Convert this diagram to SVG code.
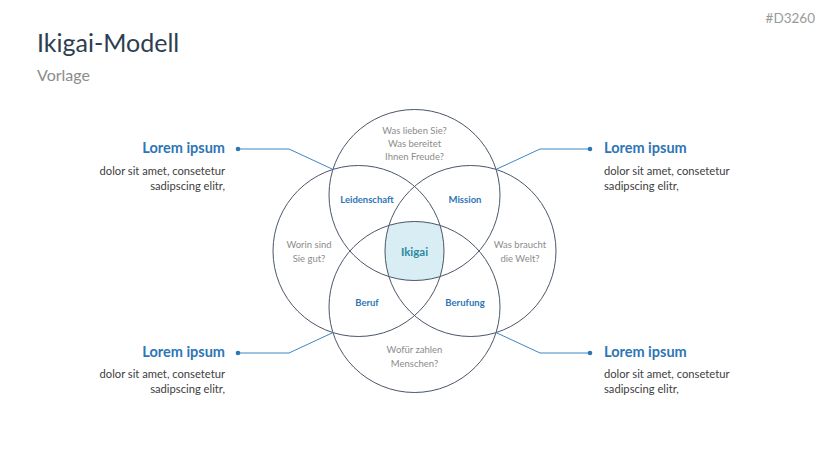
<svg xmlns="http://www.w3.org/2000/svg" width="829" height="466" viewBox="0 0 829 466">
<style>
text{font-family:Lato,"Open Sans","Liberation Sans",sans-serif}
.circ{fill:none;stroke:#4a5668;stroke-width:1}
.q{fill:#8c8c8c;font-size:9.5px;text-anchor:middle}
.lab{fill:#2e75b6;font-size:9.5px;font-weight:bold;text-anchor:middle}
.head{fill:#2e75b6;font-size:14.5px;font-weight:bold}
.body{fill:#404040;font-size:11.2px}
.conn{fill:none;stroke:#3d85c6;stroke-width:1}
.dot{fill:#2e75b6}
</style>
<rect width="829" height="466" fill="#ffffff"/>
<text x="37" y="52" style="font-size:25px;fill:#2d3e50">Ikigai-Modell</text>
<text x="37" y="81" style="font-size:16px;fill:#8c8c8c">Vorlage</text>
<text x="815" y="23" style="font-size:13.5px;fill:#9a9a9a;text-anchor:end">#D3260</text>
<g id="ikigai">
<path d="M388.9,225.4 A85.5,85.5 0 0 1 440.1,225.4 A85.5,85.5 0 0 1 440.1,276.6 A85.5,85.5 0 0 1 388.9,276.6 A85.5,85.5 0 0 1 388.9,225.4 Z" fill="#d9edf4"/>
<text x="414.5" y="256" style="fill:#2a8aa0;font-size:11.5px;font-weight:bold;text-anchor:middle">Ikigai</text>
</g>
<g id="circle-top">
<circle class="circ" cx="414.5" cy="195" r="85.5"/>
<text class="q" x="414.5" y="134">Was lieben Sie?</text>
<text class="q" x="414.5" y="147">Was bereitet</text>
<text class="q" x="414.5" y="160">Ihnen Freude?</text>
</g>
<g id="circle-left">
<circle class="circ" cx="358.5" cy="251" r="85.5"/>
<text class="q" x="309" y="248">Worin sind</text>
<text class="q" x="309" y="262">Sie gut?</text>
</g>
<g id="circle-right">
<circle class="circ" cx="470.5" cy="251" r="85.5"/>
<text class="q" x="520" y="248">Was braucht</text>
<text class="q" x="520" y="262">die Welt?</text>
</g>
<g id="circle-bottom">
<circle class="circ" cx="414.5" cy="307" r="85.5"/>
<text class="q" x="414.5" y="353">Wofür zahlen</text>
<text class="q" x="414.5" y="367">Menschen?</text>
</g>
<g id="leidenschaft"><text class="lab" x="367" y="203">Leidenschaft</text></g>
<g id="mission"><text class="lab" x="465" y="203">Mission</text></g>
<g id="beruf"><text class="lab" x="367" y="306">Beruf</text></g>
<g id="berufung"><text class="lab" x="465" y="306">Berufung</text></g>
<g id="connectors">
<polyline class="conn" points="238,149 289,149 332.9,169.4"/>
<polyline class="conn" points="590,149 540,149 496.1,169.4"/>
<polyline class="conn" points="238,353 289,353 332.9,332.6"/>
<polyline class="conn" points="590,353 540,353 496.1,332.6"/>
<circle class="dot" cx="238" cy="149" r="2.3"/>
<circle class="dot" cx="590" cy="149" r="2.3"/>
<circle class="dot" cx="238" cy="353" r="2.3"/>
<circle class="dot" cx="590" cy="353" r="2.3"/>
</g>
<g id="text-tl">
<text class="head" x="225" y="153" text-anchor="end">Lorem ipsum</text>
<text class="body" x="225" y="175" text-anchor="end">dolor sit amet, consetetur</text>
<text class="body" x="225" y="190" text-anchor="end">sadipscing elitr,</text>
</g>
<g id="text-tr">
<text class="head" x="604" y="153">Lorem ipsum</text>
<text class="body" x="604" y="175">dolor sit amet, consetetur</text>
<text class="body" x="604" y="190">sadipscing elitr,</text>
</g>
<g id="text-bl">
<text class="head" x="225" y="357" text-anchor="end">Lorem ipsum</text>
<text class="body" x="225" y="378" text-anchor="end">dolor sit amet, consetetur</text>
<text class="body" x="225" y="393" text-anchor="end">sadipscing elitr,</text>
</g>
<g id="text-br">
<text class="head" x="604" y="357">Lorem ipsum</text>
<text class="body" x="604" y="378">dolor sit amet, consetetur</text>
<text class="body" x="604" y="393">sadipscing elitr,</text>
</g>
</svg>
